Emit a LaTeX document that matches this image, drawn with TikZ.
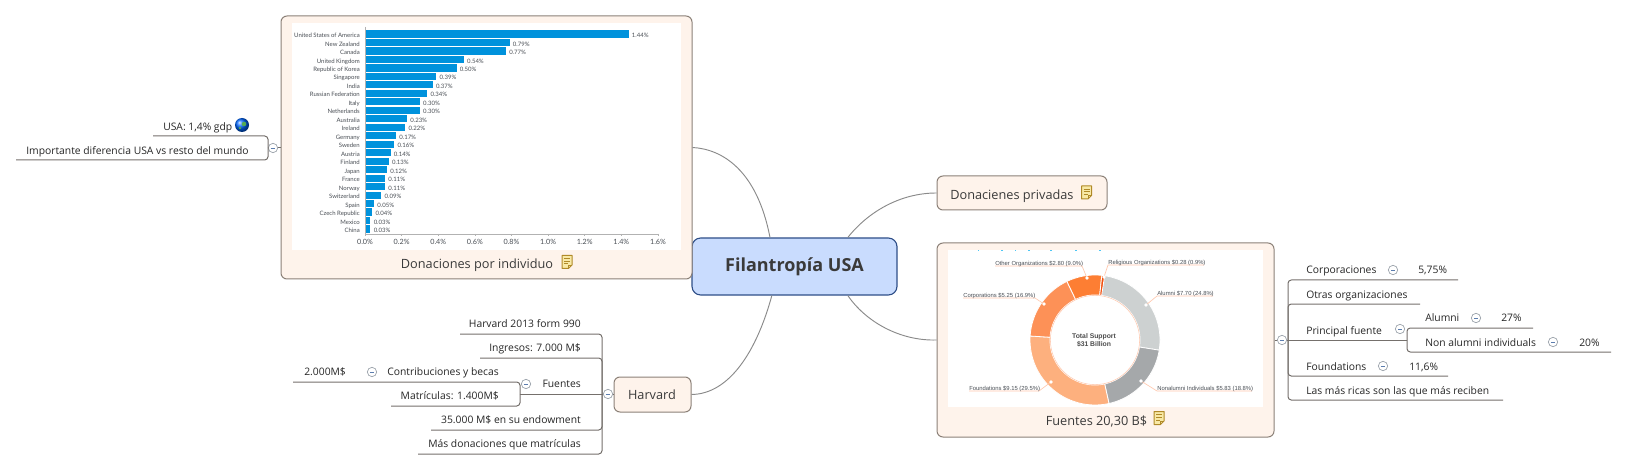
\documentclass[tikz,border=0pt]{standalone}
\usepackage{fontspec}
\usetikzlibrary{calc}
\setmainfont{Open Sans}
\newfontfamily\chartfont{Lato}
\newfontfamily\donutfont{Liberation Sans}
\definecolor{boxfill}{HTML}{FEF3EB}
\definecolor{boxline}{HTML}{8C8178}
\definecolor{rootfill}{HTML}{C9DCFE}
\definecolor{rootline}{HTML}{2F4F88}
\definecolor{ink}{HTML}{3A3A3A}
\definecolor{branchc}{HTML}{75706C}
\definecolor{curvec}{HTML}{8A8A8A}
\definecolor{barc}{HTML}{0092DC}
\definecolor{chartink}{HTML}{4A4F55}
\definecolor{leader}{HTML}{FFC9AF}
\definecolor{noteline}{HTML}{B08A28}
\definecolor{notefill}{HTML}{F8E9A6}
\definecolor{colline}{HTML}{98A0A8}
\definecolor{colminus}{HTML}{5C7DAE}
\tikzset{
  x=0.75pt,y=-0.75pt,
  topicbox/.style={draw=boxline,fill=boxfill,line width=0.75pt,rounded corners=4.5pt,inner sep=0pt},
  rootbox/.style={draw=rootline,fill=rootfill,line width=0.85pt,rounded corners=6.5pt,inner sep=0pt,text=ink,font=\fontsize{13.5}{16}\selectfont\bfseries},
  toptext/.style={inner sep=0pt,text=ink,font=\fontsize{9.55}{12}\selectfont},
  lab/.style={inner sep=0pt,text=black!85,font=\fontsize{7.75}{9}\selectfont},
  branch/.style={draw=branchc,line width=0.75pt,rounded corners=2.5pt},
  curve/.style={draw=curvec,line width=0.7pt},
  collapse/.style={circle,draw=colline,fill=white,line width=0.5pt,minimum size=7pt,inner sep=0pt,
    path picture={\draw[colminus,line width=0.5pt]([xshift=1.8pt]path picture bounding box.west)--([xshift=-1.8pt]path picture bounding box.east);}},
  ctext/.style={inner sep=0pt,text=chartink,font=\chartfont\fontsize{4.5}{5}\selectfont},
  dtext/.style={inner sep=0pt,text=chartink,font=\donutfont\fontsize{4.4}{5}\selectfont},
  noteicon/.pic={
    \draw[draw=noteline,fill=notefill,line width=0.75pt,line join=round]
      (-5,-6.5)--(5,-6.5)--(5,3)--(1.5,6.5)--(-5,6.5)--cycle;
    \draw[draw=noteline,line width=0.6pt] (-3,-3.5)--(3,-3.5) (-3,-0.8)--(3,-0.8) (-3,1.9)--(1,1.9) (5,3)--(1.5,3)--(1.5,6.5);
  }
}
\begin{document}
\begin{tikzpicture}
\useasboundingbox (0,0) rectangle (1627,470);
\fill[white] (0,0) rectangle (1627,470);

% topics
\node[rootbox,minimum width=153.75pt,minimum height=42.75pt] (root) at (794.5,266.5) {Filantropía USA};
\node[topicbox,minimum width=308.25pt,minimum height=197.25pt] (dona) at (486.5,147.5) {};
\node[topicbox,minimum width=127.5pt,minimum height=25.5pt] (priv) at (1022,193) {};
\node[topicbox,minimum width=252.75pt,minimum height=145.5pt] (fuen) at (1105.5,340) {};
\node[topicbox,minimum width=57.75pt,minimum height=26.25pt] (harv) at (652.5,394.5) {};

% main curves
\draw[curve] ([xshift=-18.4pt]root.north) .. controls (757,170) and (722,149) .. (dona.east);
\draw[curve] ([xshift=40pt]root.north) .. controls (868,212) and (900,193) .. (priv.west);
\draw[curve] ([xshift=40pt]root.south) .. controls (866,322) and (900,341) .. (fuen.west);
\draw[curve] ([xshift=-17pt]root.south) .. controls (757,350) and (730,394) .. (harv.east);

% topic labels
\node[toptext,anchor=mid] (ldona) at (477,264.5) {Donaciones por individuo};
\pic at (567,262) {noteicon};
\node[toptext,anchor=mid west] (lpriv) at (950,195.5) {Donacienes privadas};
\pic at (1086.5,192.5) {noteicon};
\node[toptext,anchor=mid] (lfuen) at (1096.5,421.5) {Fuentes 20,30 B\$};
\pic at (1159,418) {noteicon};
\node[toptext,anchor=mid] (lharv) at (652,396) {Harvard};

% bar chart image
\fill[white] (292,23) rectangle (681,250);
\draw[gray!60,line width=0.5pt] (365,27) -- (365,234) -- (658,234);
\foreach \fr/\txt in {0/0.0\%,0.2/0.2\%,0.4/0.4\%,0.6/0.6\%,0.8/0.8\%,1/1.0\%,1.2/1.2\%,1.4/1.4\%,1.6/1.6\%}{
  \pgfmathsetmacro\xx{365+\fr/1.6*293}
  \draw[gray!60,line width=0.4pt] (\xx,234) -- (\xx,236);
  \node[ctext,anchor=mid,font=\chartfont\fontsize{5.4}{6}\selectfont] at (\xx,241) {\txt};
}
\foreach \name/\val [count=\i from 0] in {United States of America/1.44,New Zealand/0.79,Canada/0.77,United Kingdom/0.54,Republic of Korea/0.50,Singapore/0.39,India/0.37,Russian Federation/0.34,Italy/0.30,Netherlands/0.30,Australia/0.23,Ireland/0.22,Germany/0.17,Sweden/0.16,Austria/0.14,Finland/0.13,Japan/0.12,France/0.11,Norway/0.11,Switzerland/0.09,Spain/0.05,Czech Republic/0.04,Mexico/0.03,China/0.03}{
  \pgfmathsetmacro\yy{34+8.48*\i}
  \pgfmathsetmacro\xx{365+\val/1.6*293}
  \fill[barc] (365.5,\yy-3.6) rectangle (\xx,\yy+3.6);
  \node[ctext,anchor=mid east] at (360,\yy) {\name};
  \node[ctext,anchor=mid west] at (\xx+3,\yy) {\val\%};
}

% donut image
\fill[white] (948,250) rectangle (1263,407);
\foreach \xa/\xb in {978/979,1001/1003,1015/1016,1028/1030,1050/1052,1075/1077,1099/1101}{
  \draw[cyan!70,line width=0.6pt] (\xa,250.6) -- (\xb,250.6);
}
\foreach \a/\b/\c in {82/-9/CDD1D1,-9/-77.6/A5A8AA,-77.6/-183.5/FDB07E,-183.5/-244.4/FD9157,-244.4/-276/FD7E33,-276/-278.5/F2500F}{
  \definecolor{seg}{HTML}{\c}
  \fill[seg,draw=white,line width=0.6pt] plot[domain=\a:\b,samples=40] ({1095+65*cos(\x)},{340-65*sin(\x)})
    -- plot[domain=\b:\a,samples=40] ({1095+45*cos(\x)},{340-45*sin(\x)}) -- cycle;
}
\draw[leader,line width=0.4pt] (1095,340) circle[radius=33.45pt];
\node[inner sep=0pt,align=center,text=black!70,font=\donutfont\bfseries\fontsize{5.1}{6.2}\selectfont] (dtot) at (1094,340) {Total Support\\\$31 Billion};
\foreach \px/\py/\tx/\ty/\ex/\ey/\ax/\lbl/\anc in {
  1087/278/1082/266/995/266/995/Other Organizations \$2.80 (9.0\%)/mid west,
  1104/277/1108/265/1204/265/1108/Religious Organizations \$0.28 (0.9\%)/mid west,
  1146/305/1157/296/1213/296/1157/Alumni \$7.70 (24.8\%)/mid west,
  1044/304/1035/298/963/298/963/Corporations \$5.25 (16.9\%)/mid west,
  1051/382/1039/391/969/391/969/Foundations \$9.15 (29.5\%)/mid west,
  1141/381/1157/391/1252/391/1157/Nonalumni Individuals \$5.83 (18.8\%)/mid west}{
  \draw[leader,line width=0.5pt] (\px,\py) -- (\tx,\ty) -- (\ex,\ey);
  \fill[white] (\px,\py) circle[radius=1.4pt];
  \node[dtext,anchor=\anc] at (\ax,\ty-3.7) {\lbl};
}

% left branch
\node[lab,anchor=mid west] (usa) at (163,127) {USA: 1,4\% gdp};
\node[circle,minimum size=10.5pt,inner sep=0pt,ball color=blue!60!cyan] (globe) at (242,125) {};
\fill[green!35!gray] (244,124) circle[radius=1.7pt] (240,128) circle[radius=1pt];
\node[lab,anchor=mid west] (imp) at (26,151) {Importante diferencia USA vs resto del mundo};
\node[collapse] (cl) at (273,148) {};
\coordinate (lT) at (268,148);
\coordinate (l1) at (153,136);
\coordinate (l2) at (16,160);
\draw[branch] (l1) -- (l1 -| lT) -- (lT);
\draw[branch] (l2) -- (l2 -| lT) -- (lT);
\draw[branch] (lT) -- (cl.west);
\draw[branch] (cl.east) -- (dona.west |- cl);

% Harvard branch
\node[collapse] (ch) at (608,394) {};
\draw[branch] (ch.east) -- (harv.west |- ch);
\coordinate (hT) at (602,394);
\draw[branch] (hT) -- (ch.west);
\coordinate (h1) at (460,334);
\coordinate (h2) at (480,358);
\coordinate (h3) at (521,394);
\coordinate (h4) at (431,430);
\coordinate (h5) at (418,454);
\foreach \p in {h1,h2,h4,h5}{\draw[branch] (\p) -- (\p -| hT) -- (hT);}
\draw[branch] (h3) -- (hT);
\node[lab,anchor=mid east] (t1) at (581,324) {Harvard 2013 form 990};
\node[lab,anchor=mid east] (t2) at (581,348) {Ingresos: 7.000 M\$};
\node[lab,anchor=mid east] (t3) at (581,384) {Fuentes};
\node[lab,anchor=mid east] (t4) at (581,420) {35.000 M\$ en su endowment};
\node[lab,anchor=mid east] (t5) at (581,444) {Más donaciones que matrículas};
\node[collapse] (cf) at (526,384) {};
\coordinate (fT) at (520,394);
\coordinate (f1) at (293,382);
\coordinate (f2) at (391,406);
\draw[branch] (f1) -- (f1 -| fT) -- (fT);
\draw[branch] (f2) -- (f2 -| fT) -- (fT);
\draw[branch] (fT) -- (h3);
\node[lab,anchor=mid east] (t6) at (499,372) {Contribuciones y becas};
\node[lab,anchor=mid east] (t7) at (499,396) {Matrículas: 1.400M\$};
\node[collapse] (cc) at (372,372) {};
\node[lab,anchor=mid west] (t8) at (304,372) {2.000M\$};

% Fuentes branch
\node[collapse] (cr) at (1282,340) {};
\draw[branch] (fuen.east |- cr) -- (cr.west);
\coordinate (rT) at (1288,340);
\draw[branch] (cr.east) -- (rT);
\coordinate (r1) at (1458,280);
\coordinate (r2) at (1420,304);
\coordinate (r3) at (1407,340);
\coordinate (r4) at (1448,376);
\coordinate (r5) at (1503,400);
\foreach \p in {r1,r2,r4,r5}{\draw[branch] (\p) -- (\p -| rT) -- (rT);}
\draw[branch] (r3) -- (rT);
\node[lab,anchor=mid west] (s1) at (1306,270) {Corporaciones};
\node[collapse] (c1) at (1393,270) {};
\node[lab,anchor=mid west] (s1b) at (1418,270) {5,75\%};
\node[lab,anchor=mid west] (s2) at (1306,295) {Otras organizaciones};
\node[lab,anchor=mid west] (s3) at (1306,331) {Principal fuente};
\node[collapse] (c3) at (1400,329) {};
\node[lab,anchor=mid west] (s4) at (1306,367) {Foundations};
\node[collapse] (c4) at (1383,366) {};
\node[lab,anchor=mid west] (s4b) at (1409,367) {11,6\%};
\node[lab,anchor=mid west] (s5) at (1306,391) {Las más ricas son las que más reciben};
\coordinate (qT) at (1407,340);
\coordinate (q1) at (1533,328);
\coordinate (q2) at (1611,352);
\draw[branch] (q1) -- (q1 -| qT) -- (qT);
\draw[branch] (q2) -- (q2 -| qT) -- (qT);
\node[lab,anchor=mid west] (s6) at (1425,318) {Alumni};
\node[collapse] (c6) at (1476,318) {};
\node[lab,anchor=mid west] (s6b) at (1501,318) {27\%};
\node[lab,anchor=mid west] (s7) at (1425,343) {Non alumni individuals};
\node[collapse] (c7) at (1553,342) {};
\node[lab,anchor=mid west] (s7b) at (1579,343) {20\%};
\end{tikzpicture}
\end{document}
